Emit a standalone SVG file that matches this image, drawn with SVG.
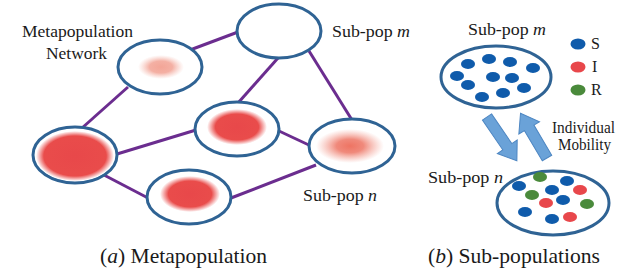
<svg xmlns="http://www.w3.org/2000/svg" width="634" height="276" viewBox="0 0 634 276" font-family="Liberation Serif, Times New Roman, DejaVu Serif, serif">
<style>
text{font-family:"Liberation Serif","Times New Roman","DejaVu Serif",serif}
.t{font-size:16px;fill:#1a1a1a}
.cap{font-size:21px;fill:#1a1a1a}
.node{fill:#ffffff;stroke:#2f6394;stroke-width:3}
.edge{stroke:#6b2d8f;stroke-width:3;fill:none}
.sb{fill:#0f5bab}.si{fill:#e8474b}.sr{fill:#4a8a3b}
.arr{fill:#6aa2d8;stroke:#4d86c2;stroke-width:1}
</style>
<defs>
<radialGradient id="gRed" cx="0.5" cy="0.5" r="0.5">
<stop offset="0" stop-color="#e8484a"/><stop offset="0.72" stop-color="#e94c4b"/><stop offset="1" stop-color="#e94c4b" stop-opacity="0"/>
</radialGradient>
<radialGradient id="gBig" cx="0.5" cy="0.5" r="0.5">
<stop offset="0" stop-color="#e8484a"/><stop offset="0.8" stop-color="#e94c4b"/><stop offset="1" stop-color="#ffffff" stop-opacity="1"/>
</radialGradient>
<radialGradient id="gMid" cx="0.5" cy="0.5" r="0.5">
<stop offset="0" stop-color="#ee7463"/><stop offset="0.4" stop-color="#f08a7c"/><stop offset="1" stop-color="#f5a89c" stop-opacity="0"/>
</radialGradient>
<radialGradient id="gLight" cx="0.5" cy="0.5" r="0.5">
<stop offset="0" stop-color="#f3a597"/><stop offset="0.5" stop-color="#f4b0a4"/><stop offset="1" stop-color="#f7c6bd" stop-opacity="0"/>
</radialGradient>
</defs>
<g id="connectors">
<line class="edge" x1="190" y1="50" x2="238" y2="32"/>
<line class="edge" x1="128" y1="87" x2="82" y2="128"/>
<line class="edge" x1="278" y1="58" x2="238" y2="103"/>
<line class="edge" x1="309" y1="51" x2="352" y2="120"/>
<line class="edge" x1="117" y1="154" x2="196" y2="130"/>
<line class="edge" x1="279" y1="131" x2="311" y2="146"/>
<line class="edge" x1="104" y1="175" x2="148" y2="198"/>
<line class="edge" x1="231" y1="198" x2="316" y2="165"/>
</g>
<g id="node-network">
<ellipse class="node" cx="160" cy="67" rx="42" ry="27"/>
<ellipse cx="161" cy="67" rx="23" ry="12" fill="url(#gLight)"/>
</g>
<g id="node-subpop-m">
<ellipse class="node" cx="279" cy="31" rx="42" ry="27"/>
</g>
<g id="node-middle">
<ellipse class="node" cx="237" cy="129" rx="42" ry="27"/>
<ellipse cx="237" cy="127" rx="30" ry="18" fill="url(#gRed)"/>
</g>
<g id="node-left">
<ellipse class="node" cx="75" cy="155" rx="42" ry="28"/>
<ellipse cx="75" cy="156" rx="39" ry="25" fill="url(#gBig)"/>
</g>
<g id="node-bottom">
<ellipse class="node" cx="189" cy="197" rx="42" ry="27"/>
<ellipse cx="190" cy="194" rx="30" ry="18" fill="url(#gRed)"/>
</g>
<g id="node-subpop-n">
<ellipse class="node" cx="352" cy="146" rx="43" ry="27"/>
<ellipse cx="350" cy="146" rx="34" ry="17" fill="url(#gMid)"/>
</g>
<g id="labels-a">
<text class="t" x="22" y="37" textLength="111" lengthAdjust="spacingAndGlyphs">Metapopulation</text>
<text class="t" x="46" y="59" textLength="61" lengthAdjust="spacingAndGlyphs">Network</text>
<text class="t" x="332" y="37" textLength="78" lengthAdjust="spacingAndGlyphs">Sub-pop <tspan font-style="italic">m</tspan></text>
<text class="t" x="303" y="201" textLength="74" lengthAdjust="spacingAndGlyphs">Sub-pop <tspan font-style="italic">n</tspan></text>
<text class="cap" x="100" y="263" textLength="167" lengthAdjust="spacingAndGlyphs">(<tspan font-style="italic">a</tspan>) Metapopulation</text>
</g>
<g id="panel-m">
<ellipse class="node" cx="496" cy="77" rx="55" ry="31"/>
<g class="sb">
<ellipse cx="468" cy="64" rx="7" ry="5"/>
<ellipse cx="489" cy="59" rx="7" ry="5"/>
<ellipse cx="510" cy="62" rx="7" ry="5"/>
<ellipse cx="533" cy="68" rx="7" ry="5"/>
<ellipse cx="457" cy="76" rx="7" ry="5"/>
<ellipse cx="493" cy="77" rx="7" ry="5"/>
<ellipse cx="512" cy="78" rx="7" ry="5"/>
<ellipse cx="468" cy="85" rx="7" ry="5"/>
<ellipse cx="524" cy="88" rx="7" ry="5"/>
<ellipse cx="482" cy="97" rx="7" ry="5"/>
<ellipse cx="503" cy="93" rx="7" ry="5"/>
</g>
<text class="t" x="468" y="35" textLength="78" lengthAdjust="spacingAndGlyphs">Sub-pop <tspan font-style="italic">m</tspan></text>
</g>
<g id="legend">
<ellipse class="sb" cx="578" cy="44" rx="7.5" ry="5.5"/>
<ellipse class="si" cx="578" cy="67" rx="7.5" ry="5.5"/>
<ellipse class="sr" cx="578" cy="90" rx="7.5" ry="5.5"/>
<text class="t" x="591" y="49">S</text>
<text class="t" x="592" y="72">I</text>
<text class="t" x="591" y="95">R</text>
</g>
<g id="mobility-arrows">
<polygon class="arr" transform="translate(487,117) rotate(55.7)" points="0,-5.5 36,-5.5 36,-12 53,0 36,12 36,5.5 0,5.5"/>
<polygon class="arr" transform="translate(547,158) rotate(-120.6)" points="0,-5.5 35,-5.5 35,-12 52,0 35,12 35,5.5 0,5.5"/>
<text class="t" x="552" y="133" textLength="63" lengthAdjust="spacingAndGlyphs">Individual</text>
<text class="t" x="558" y="150" textLength="53" lengthAdjust="spacingAndGlyphs">Mobility</text>
</g>
<g id="panel-n">
<ellipse class="node" cx="553" cy="203" rx="56" ry="32"/>
<ellipse class="sb" cx="519" cy="186" rx="7" ry="5"/>
<ellipse class="sr" cx="540" cy="177" rx="7" ry="5"/>
<ellipse class="sb" cx="567" cy="181" rx="7" ry="5"/>
<ellipse class="si" cx="580" cy="190" rx="7" ry="5"/>
<ellipse class="sr" cx="532" cy="195" rx="7" ry="5"/>
<ellipse class="sb" cx="552" cy="190" rx="7" ry="5"/>
<ellipse class="si" cx="546" cy="203" rx="7" ry="5"/>
<ellipse class="sb" cx="563" cy="200" rx="7" ry="5"/>
<ellipse class="sr" cx="587" cy="204" rx="7" ry="5"/>
<ellipse class="sb" cx="525" cy="212" rx="7" ry="5"/>
<ellipse class="sb" cx="552" cy="219" rx="7" ry="5"/>
<ellipse class="si" cx="570" cy="217" rx="7" ry="5"/>
<text class="t" x="428" y="183" textLength="75" lengthAdjust="spacingAndGlyphs">Sub-pop <tspan font-style="italic">n</tspan></text>
<text class="cap" x="428" y="263" textLength="172" lengthAdjust="spacingAndGlyphs">(<tspan font-style="italic">b</tspan>) Sub-populations</text>
</g>
</svg>
